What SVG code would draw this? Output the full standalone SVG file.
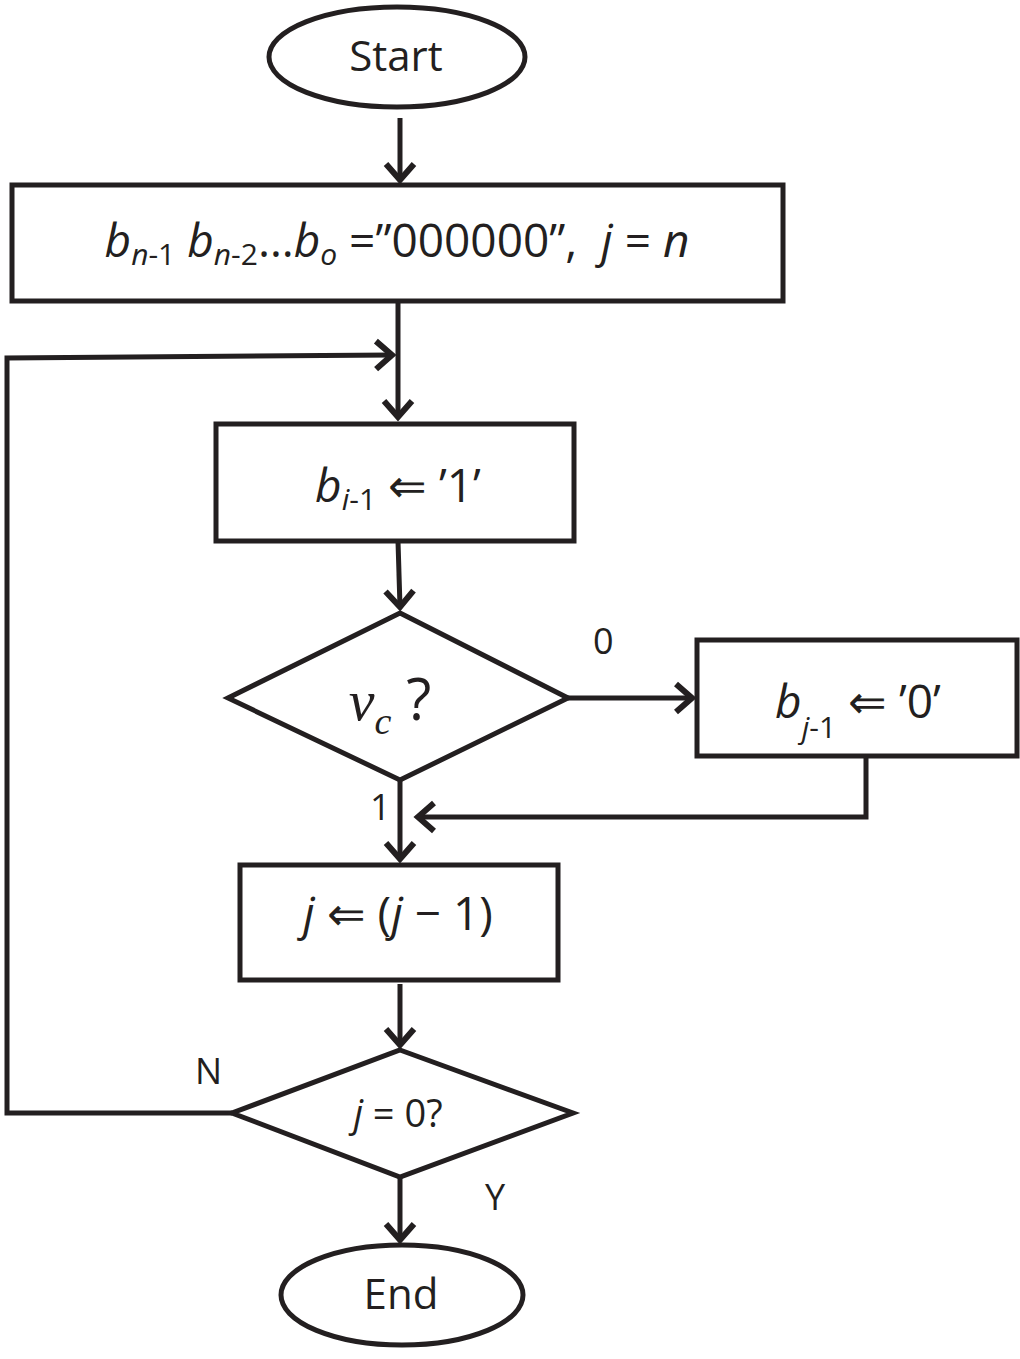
<svg xmlns="http://www.w3.org/2000/svg" width="1020" height="1359" viewBox="0 0 1020 1359">
<style>
.s{fill:#fff;stroke:#231f20;stroke-width:5}
.c{fill:none;stroke:#231f20;stroke-width:5}
text{font-family:"Open Sans","Liberation Sans",sans-serif;fill:#231f20}
.t{font-size:42px;text-anchor:middle}
.i{font-style:italic}
.l{font-size:36px}
</style>
<defs>
<marker id="a" refX="0" refY="0" markerWidth="40" markerHeight="40" orient="auto" markerUnits="userSpaceOnUse" overflow="visible">
<path d="M-16,-14 L0,0 L-16,14" fill="none" stroke="#231f20" stroke-width="6"/>
</marker>
</defs>
<rect width="1020" height="1359" fill="#fff"/>
<g id="connectors">
<line class="c" x1="400" y1="118" x2="400" y2="180" marker-end="url(#a)"/>
<line class="c" x1="398" y1="301" x2="398" y2="417" marker-end="url(#a)"/>
<polyline class="c" points="232,1113 7,1113 7,358 392,355" marker-end="url(#a)"/>
<line class="c" x1="398" y1="541" x2="400" y2="607" marker-end="url(#a)"/>
<line class="c" x1="568" y1="698" x2="692" y2="698" marker-end="url(#a)"/>
<polyline class="c" points="866,756 866,817 418,817" marker-end="url(#a)"/>
<line class="c" x1="400" y1="780" x2="400" y2="859" marker-end="url(#a)"/>
<line class="c" x1="400" y1="984" x2="400" y2="1045" marker-end="url(#a)"/>
<line class="c" x1="400" y1="1177" x2="400" y2="1240" marker-end="url(#a)"/>
<text class="l" x="593" y="654">0</text>
<text class="l" x="370" y="820">1</text>
<text class="l" x="195" y="1084">N</text>
<text class="l" x="485" y="1210">Y</text>
</g>
<g id="start"><ellipse class="s" cx="397" cy="57" rx="128" ry="50"/><text class="t" x="396" y="71">Start</text></g>
<g id="init"><rect class="s" x="12" y="185" width="771" height="116"/>
<text x="397" y="257" font-size="46" text-anchor="middle" xml:space="preserve"><tspan class="i">b</tspan><tspan font-size="30" dy="8"><tspan class="i">n</tspan>-1</tspan><tspan dy="-8"> </tspan><tspan class="i">b</tspan><tspan font-size="30" dy="8"><tspan class="i">n</tspan>-2</tspan><tspan dy="-8">…</tspan><tspan class="i">b</tspan><tspan font-size="30" dy="8" class="i">o</tspan><tspan dy="-8"> =”000000”,  </tspan><tspan class="i">j</tspan> = <tspan class="i">n</tspan></text></g>
<g id="set1"><rect class="s" x="216" y="424" width="358" height="117"/>
<text x="398" y="502" font-size="46" text-anchor="middle" xml:space="preserve"><tspan class="i">b</tspan><tspan font-size="30" dy="8"><tspan class="i">i</tspan>-1</tspan><tspan dy="-8"> ⇐ ’1’</tspan></text></g>
<g id="vc"><polygon class="s" points="400,613 568,698 400,780 228,698"/>
<text x="390" y="720" font-size="58" text-anchor="middle" style="font-family:'Liberation Serif',serif" xml:space="preserve"><tspan font-style="italic">v</tspan><tspan font-size="38" dy="14" font-style="italic">c</tspan><tspan dy="-14" style="font-family:'Open Sans',sans-serif"> ?</tspan></text></g>
<g id="set0"><rect class="s" x="697" y="640" width="320" height="116"/>
<text x="858" y="718" font-size="46" text-anchor="middle" xml:space="preserve"><tspan class="i">b</tspan><tspan font-size="30" dy="20"><tspan class="i">j</tspan>-1</tspan><tspan dy="-20"> ⇐ ’0’</tspan></text></g>
<g id="dec"><rect class="s" x="240" y="865" width="318" height="115"/>
<text x="398" y="930" font-size="46" text-anchor="middle"><tspan class="i">j</tspan> ⇐ (<tspan class="i">j</tspan> − 1)</text></g>
<g id="check"><polygon class="s" points="400,1050 573,1113 400,1177 232,1113"/>
<text x="398" y="1127" font-size="38" text-anchor="middle"><tspan class="i">j</tspan> = 0?</text></g>
<g id="end"><ellipse class="s" cx="402" cy="1295" rx="121" ry="50"/><text class="t" x="401" y="1309">End</text></g>
</svg>
